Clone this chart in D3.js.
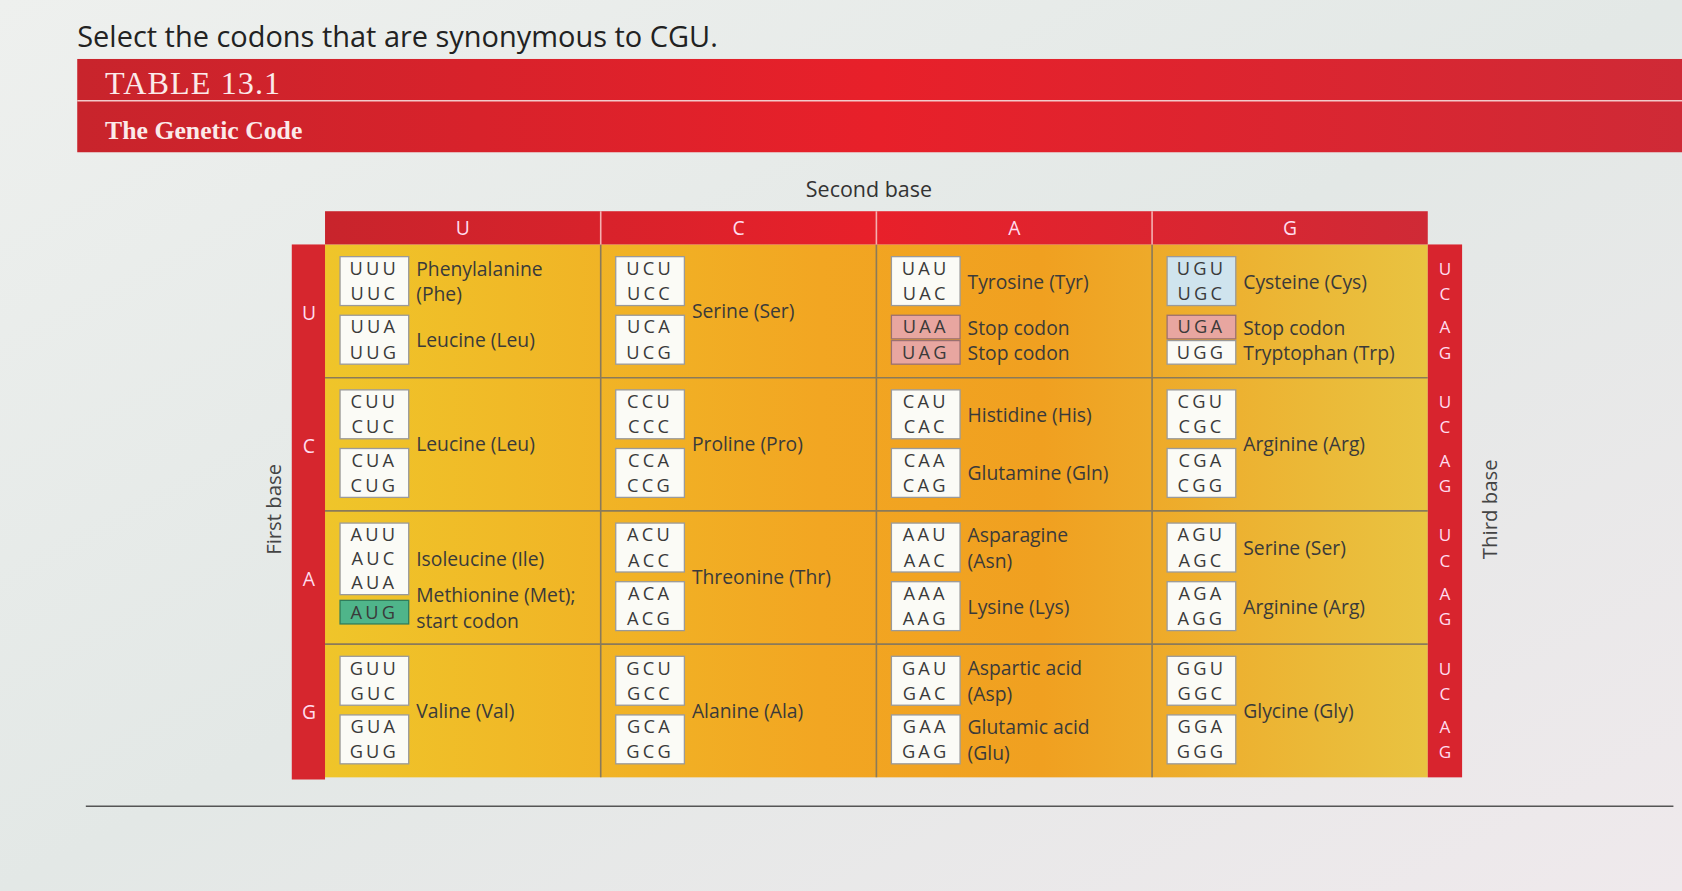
<!DOCTYPE html>
<html>
<head>
<meta charset="utf-8">
<script src="https://cdn.jsdelivr.net/npm/d3@7"></script>
<style>
  html, body { margin: 0; padding: 0; background: #e9ebe8; overflow: hidden; }
  svg { display: block; }
</style>
</head>
<body>
<svg id="chart" width="1682" height="891" viewBox="0 0 1568 831" preserveAspectRatio="none"></svg>
<script>
// bases in order, for rows (first), columns (second) and third position
const bases = ['U', 'C', 'A', 'G']

// amino acid for each codon, first base -> second base -> third base
const aminoAcids = [
  'Phe','Phe','Leu','Leu',  'Ser','Ser','Ser','Ser',  'Tyr','Tyr','Stop1','Stop2',  'Cys','Cys','Stop3','Trp',
  'Leu','Leu','Leu','Leu',  'Pro','Pro','Pro','Pro',  'His','His','Gln','Gln',      'Arg','Arg','Arg','Arg',
  'Ile','Ile','Ile','Met',  'Thr','Thr','Thr','Thr',  'Asn','Asn','Lys','Lys',      'Ser','Ser','Arg','Arg',
  'Val','Val','Val','Val',  'Ala','Ala','Ala','Ala',  'Asp','Asp','Glu','Glu',      'Gly','Gly','Gly','Gly'
]

const labels = {
  Phe: ['Phenylalanine', '(Phe)'], Leu: ['Leucine (Leu)'], Ser: ['Serine (Ser)'],
  Tyr: ['Tyrosine (Tyr)'], Stop1: ['Stop codon'], Stop2: ['Stop codon'], Stop3: ['Stop codon'],
  Cys: ['Cysteine (Cys)'], Trp: ['Tryptophan (Trp)'], Pro: ['Proline (Pro)'],
  His: ['Histidine (His)'], Gln: ['Glutamine (Gln)'], Arg: ['Arginine (Arg)'],
  Ile: ['Isoleucine (Ile)'], Met: ['Methionine (Met);', 'start codon'], Thr: ['Threonine (Thr)'],
  Asn: ['Asparagine', '(Asn)'], Lys: ['Lysine (Lys)'], Val: ['Valine (Val)'],
  Ala: ['Alanine (Ala)'], Asp: ['Aspartic acid', '(Asp)'], Glu: ['Glutamic acid', '(Glu)'],
  Gly: ['Glycine (Gly)']
}

const thirdPos = [0.18, 0.37, 0.62, 0.81]
// the U-column of the A row stacks its four codons evenly
const evenPos = [0.18, 0.36, 0.54, 0.76]

const svg = d3.select('#chart')
const defs = svg.append('defs')

let bg = defs.append('linearGradient').attr('id', 'bg').attr('x1', 0).attr('x2', 1).attr('y1', 0).attr('y2', 1)
bg.append('stop').attr('offset', 0).attr('stop-color', '#eef0ee')
bg.append('stop').attr('offset', 0.5).attr('stop-color', '#e3e8e6')
bg.append('stop').attr('offset', 1).attr('stop-color', '#efe9ec')

let cellGrad = defs.append('linearGradient').attr('id', 'cells').attr('x1', 0).attr('x2', 1)
cellGrad.append('stop').attr('offset', 0).attr('stop-color', '#efc52a')
cellGrad.append('stop').attr('offset', 0.45).attr('stop-color', '#f2a622')
cellGrad.append('stop').attr('offset', 0.65).attr('stop-color', '#f0a020')
cellGrad.append('stop').attr('offset', 1).attr('stop-color', '#e9c341')

let redGrad = defs.append('linearGradient').attr('id', 'red').attr('x1', 0).attr('x2', 1)
redGrad.append('stop').attr('offset', 0).attr('stop-color', '#c8242c')
redGrad.append('stop').attr('offset', 0.5).attr('stop-color', '#e8202a')
redGrad.append('stop').attr('offset', 1).attr('stop-color', '#cf2a36')

svg.append('rect').attr('width', 1568).attr('height', 831).attr('fill', 'url(#bg)')

const sans = 'Open Sans, Noto Sans, sans-serif'
const serif = 'Liberation Serif, DejaVu Serif, serif'

svg.append('text').attr('x', 72).attr('y', 44).attr('font-family', sans)
  .attr('font-size', 27).attr('fill', '#222').text('Select the codons that are synonymous to CGU.')

// banner
svg.append('rect').attr('x', 72).attr('y', 55).attr('width', 1496).attr('height', 87).attr('fill', 'url(#red)')
svg.append('line').attr('x1', 72).attr('x2', 1568).attr('y1', 94).attr('y2', 94)
  .attr('stroke', '#f3c9c9').attr('stroke-width', 1.5)
svg.append('text').attr('x', 98).attr('y', 88).attr('font-family', serif).attr('font-size', 30)
  .attr('fill', '#fbeaea').attr('letter-spacing', 1).text('TABLE 13.1')
svg.append('text').attr('x', 98).attr('y', 130).attr('font-family', serif).attr('font-size', 24)
  .attr('font-weight', 'bold').attr('fill', '#fbeaea').text('The Genetic Code')

// table geometry
const x = d3.scaleBand().domain(bases).range([303, 1331])
const y = d3.scaleBand().domain(bases).range([228, 725])

svg.append('text').attr('x', 810).attr('y', 184).attr('text-anchor', 'middle')
  .attr('font-family', sans).attr('font-size', 20).attr('fill', '#333').text('Second base')

svg.append('rect').attr('x', 303).attr('y', 228).attr('width', 1028).attr('height', 497).attr('fill', 'url(#cells)')

// header row and side columns
svg.append('rect').attr('x', 303).attr('y', 197).attr('width', 1028).attr('height', 31).attr('fill', 'url(#red)')
svg.append('rect').attr('x', 272).attr('y', 228).attr('width', 31).attr('height', 499).attr('fill', '#d6262e')
svg.append('rect').attr('x', 1331).attr('y', 228).attr('width', 32).attr('height', 497).attr('fill', '#d8242e')

svg.selectAll('.colhead').data(bases).enter().append('text')
  .attr('x', d => x(d) + x.bandwidth() / 2).attr('y', 219).attr('text-anchor', 'middle')
  .attr('font-family', sans).attr('font-size', 18).attr('fill', '#fde').text(d => d)
svg.selectAll('.rowhead').data(bases).enter().append('text')
  .attr('x', 288).attr('y', d => y(d) + y.bandwidth() / 2 + 8).attr('text-anchor', 'middle')
  .attr('font-family', sans).attr('font-size', 18).attr('fill', '#fde').text(d => d)

bases.forEach(b1 => {
  bases.forEach((b3, k) => {
    svg.append('text').attr('x', 1347).attr('y', y(b1) + y.bandwidth() * thirdPos[k] + 6)
      .attr('text-anchor', 'middle').attr('font-family', sans).attr('font-size', 16)
      .attr('fill', '#fde').text(b3)
  })
})

svg.append('text').attr('transform', 'translate(262,475) rotate(-90)').attr('text-anchor', 'middle')
  .attr('font-family', sans).attr('font-size', 19).attr('fill', '#444').text('First base')
svg.append('text').attr('transform', 'translate(1396,475) rotate(-90)').attr('text-anchor', 'middle')
  .attr('font-family', sans).attr('font-size', 19).attr('fill', '#444').text('Third base')

// grid lines
bases.slice(1).forEach(b => {
  svg.append('line').attr('x1', x(b)).attr('x2', x(b)).attr('y1', 228).attr('y2', 725)
    .attr('stroke', '#8a7a5a').attr('stroke-width', 1.5)
  svg.append('line').attr('x1', 303).attr('x2', 1331).attr('y1', y(b)).attr('y2', y(b))
    .attr('stroke', '#8a7a5a').attr('stroke-width', 1.5)
})
bases.slice(1).forEach(b => {
  svg.append('line').attr('x1', x(b)).attr('x2', x(b)).attr('y1', 197).attr('y2', 228)
    .attr('stroke', '#f4b0b0').attr('stroke-width', 1.5)
})

// cells
bases.forEach((b1, i) => {
  bases.forEach((b2, j) => {
    const cx = x(b2), cy = y(b1), h = y.bandwidth()
    const pos = (b1 === 'A' && b2 === 'U') ? evenPos : thirdPos
    const codons = bases.map((b3, k) => ({
      codon: b1 + b2 + b3, aa: aminoAcids[i * 16 + j * 4 + k], k: k,
      yy: cy + h * pos[k]
    }))

    // boxes: split by half and by amino acid (Ile keeps its three together)
    let boxes = []
    codons.forEach(c => {
      let last = boxes[boxes.length - 1]
      let sameHalf = Math.floor(last ? last.items[0].k / 2 : -1) === Math.floor(c.k / 2)
      if (last && last.aa === c.aa && (sameHalf || c.aa === 'Ile')) last.items.push(c)
      else boxes.push({ aa: c.aa, items: [c] })
    })
    boxes.forEach(bx => {
      const top = bx.items[0].yy - 11, bot = bx.items[bx.items.length - 1].yy + 11
      let fill = '#fbfbf6', stroke = '#9a9a9a'
      if (bx.aa === 'Met') { fill = '#4fb58a'; stroke = '#2f7d5c' }
      if (bx.aa.startsWith('Stop')) { fill = '#e8a6a0'; stroke = '#9a7070' }
      if (bx.aa === 'Cys') { fill = '#cfe4ee' }
      svg.append('rect').attr('x', cx + 14).attr('y', top).attr('width', 64).attr('height', bot - top)
        .attr('fill', fill).attr('stroke', stroke).attr('stroke-width', 1.2)
    })
    svg.append('g').selectAll('text').data(codons).enter().append('text')
      .attr('x', cx + 46).attr('y', d => d.yy + 6).attr('text-anchor', 'middle')
      .attr('font-family', sans).attr('font-size', 17).attr('letter-spacing', 3)
      .attr('fill', '#3a3a3a').text(d => d.codon)

    // labels: grouped by amino acid
    let groups = d3.groups(codons, d => d.aa)
    groups.forEach(([aa, items]) => {
      const lines = labels[aa]
      let mid = (items[0].yy + items[items.length - 1].yy) / 2
      if (aa === 'Ile') mid = items[1].yy
      if (aa === 'Met') mid = items[0].yy - 4
      const lh = 24
      lines.forEach((ln, n) => {
        svg.append('text').attr('x', cx + 85).attr('y', mid + 7 + (n - (lines.length - 1) / 2) * lh)
          .attr('font-family', sans).attr('font-size', 18).attr('fill', '#3a3a3a').text(ln)
      })
    })
  })
})

svg.append('line').attr('x1', 80).attr('x2', 1560).attr('y1', 752).attr('y2', 752)
  .attr('stroke', '#555').attr('stroke-width', 1.5)
</script>
</body>
</html>
